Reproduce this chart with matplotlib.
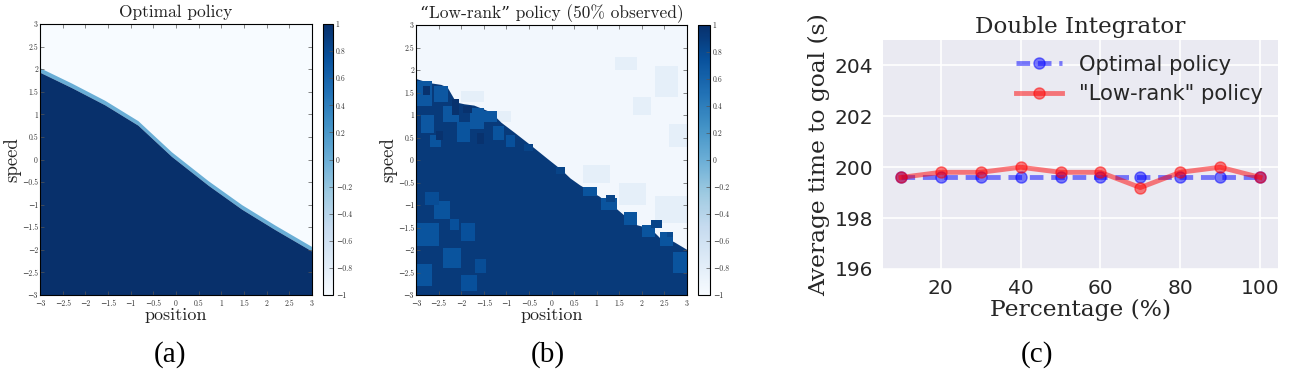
#!/usr/bin/env python3
"""Double integrator: policy maps (a, b) and average time to goal (c)."""
import matplotlib

matplotlib.use("Agg")
import matplotlib.pyplot as plt
import numpy as np
from matplotlib import cm, colors

# (a) optimal policy: upper edge of the switching band
opt_pos = [-3.0, -2.3, -1.57, -0.84, -0.1, 0.71, 1.45, 2.18, 3.0]
opt_band_top = [2.03, 1.69, 1.31, 0.86, 0.17, -0.47, -1.0, -1.45, -1.93]
opt_band_width = 0.1

# (b) "low-rank" policy: boundary of the +1 region
lr_pos = [-3.0, -2.71, -2.45, -2.31, -2.12, -1.94, -1.72, -1.57, -1.35, -1.12,
          -0.83, -0.46, -0.09, 0.2, 0.41, 0.62, 0.85, 1.05, 1.22, 1.4, 1.59,
          1.75, 1.89, 2.05, 2.18, 2.4, 2.55, 2.7, 2.85, 3.0]
lr_top = [1.81, 1.72, 1.68, 1.62, 1.29, 1.25, 1.22, 1.16, 1.07, 0.84,
          0.62, 0.33, 0.03, -0.2, -0.4, -0.55, -0.69, -0.8, -0.93, -1.05, -1.21,
          -1.33, -1.44, -1.48, -1.51, -1.73, -1.75, -1.81, -1.9, -1.99]
lr_fill = 0.92
lr_empty = -0.94

# (b) blocks whose value differs from the surrounding region
blk_x = [-3.0, -2.6, -2.9, -2.4, -2.1, -1.8, -1.5, -2.7, -1.3, -1.0,
         -2.2, -2.85, -2.55, -1.95, -1.65,
         -3.0, -2.6, -2.4, -3.0, -2.0, -2.0, -1.7, -2.8, -2.25,
         0.7, 1.1, 1.6, 2.0, 2.4, 2.7, -0.6, 0.1,
         1.2, 2.2, 2.55]
blk_y = [1.2, 1.3, 0.6, 0.85, 0.4, 0.7, 0.85, 0.3, 0.45, 0.3,
         1.0, 1.45, 0.45, 1.05, 0.35,
         -1.9, -1.3, -2.4, -2.8, -1.8, -2.9, -2.5, -1.0, -1.55,
         -0.8, -1.1, -1.45, -1.7, -1.9, -2.5, 0.2, -0.3,
         -0.93, -1.51, -1.72]
blk_w = [0.35, 0.3, 0.3, 0.35, 0.3, 0.3, 0.3, 0.25, 0.25, 0.2,
         0.15, 0.15, 0.15, 0.2, 0.15,
         0.5, 0.35, 0.4, 0.35, 0.3, 0.35, 0.25, 0.3, 0.2,
         0.3, 0.35, 0.3, 0.3, 0.3, 0.3, 0.2, 0.2,
         0.2, 0.25, 0.15]
blk_h = [0.55, 0.35, 0.4, 0.35, 0.45, 0.45, 0.25, 0.25, 0.3, 0.25,
         0.35, 0.2, 0.2, 0.15, 0.25,
         0.5, 0.4, 0.45, 0.5, 0.4, 0.35, 0.3, 0.3, 0.25,
         0.2, 0.25, 0.3, 0.25, 0.3, 0.45, 0.15, 0.15,
         0.15, 0.17, 0.12]
blk_v = [0.7, 0.7, 0.7, 0.7, 0.72, 0.7, 0.7, 0.72, 0.72, 0.75,
         0.98, 0.98, 0.98, 0.98, 0.98,
         0.72, 0.72, 0.72, 0.72, 0.75, 0.75, 0.78, 0.78, 0.75,
         0.72, 0.72, 0.72, 0.72, 0.72, 0.72, 0.85, 0.85,
         0.85, 0.85, 0.8]

# (b) faint patches in the -1 region
faint_x = [-2.0, -1.2, 0.7, 1.5, 2.3, 1.8, 2.3, 2.6, 1.4]
faint_y = [1.29, 0.85, -0.5, -1.0, -1.4, 1.0, 1.4, 0.3, 2.0]
faint_w = [0.5, 0.3, 0.6, 0.6, 0.7, 0.4, 0.5, 0.4, 0.5]
faint_h = [0.25, 0.25, 0.4, 0.5, 0.6, 0.4, 0.7, 0.5, 0.3]
faint_v = -0.82

# (c) average time to goal
percentage = [10, 20, 30, 40, 50, 60, 70, 80, 90, 100]
time_optimal = [199.6, 199.6, 199.6, 199.6, 199.6, 199.6, 199.6, 199.6, 199.6, 199.6]
time_lowrank = [199.6, 199.8, 199.8, 200.0, 199.8, 199.8, 199.2, 199.8, 200.0, 199.6]

W, H = 1295, 372
CM = ["cmr10", "DejaVu Serif"]
cmap = plt.get_cmap("Blues")
norm = colors.Normalize(vmin=-1, vmax=1)
grid_ticks = [-3, -2.5, -2, -1.5, -1, -0.5, 0, 0.5, 1, 1.5, 2, 2.5, 3]
cbar_ticks = [-1, -0.8, -0.6, -0.4, -0.2, 0, 0.2, 0.4, 0.6, 0.8, 1]

plt.rcParams["axes.unicode_minus"] = False


def fmt(v):
    if abs(v) < 1e-9:
        return "0"
    return f"{v:g}".replace("-", "\u2212")


def px_axes(fig, x0, y0, x1, y1):
    return fig.add_axes([x0 / W, 1 - y1 / H, (x1 - x0) / W, (y1 - y0) / H])


def style_map(ax, cax, title):
    ax.set_xlim(-3, 3)
    ax.set_ylim(-3, 3)
    ax.set_xticks(grid_ticks)
    ax.set_yticks(grid_ticks)
    ax.set_xticklabels([fmt(t) for t in grid_ticks], family=CM, fontsize=5.5)
    ax.set_yticklabels([fmt(t) for t in grid_ticks], family=CM, fontsize=5.5)
    ax.tick_params(direction="in", top=True, right=True, length=3, width=0.5,
                   pad=1.5, color="#555555", labelcolor="#333333")
    ax.tick_params(axis="x", pad=3)
    for s in ax.spines.values():
        s.set_linewidth(0.8)
    ax.set_xlabel("position", family=CM, fontsize=13, labelpad=0, color="#222222")
    ax.set_ylabel("speed", family=CM, fontsize=13.5, labelpad=0, color="#222222")
    ax.set_title(title, family=CM, fontsize=12.5, pad=5, color="#222222")

    cb = plt.gcf().colorbar(cm.ScalarMappable(norm=norm, cmap=cmap), cax=cax,
                            ticks=cbar_ticks)
    cb.ax.set_yticklabels([fmt(t) for t in cbar_ticks], family=CM, fontsize=5.5)
    cb.ax.tick_params(direction="in", length=3, width=0.5, pad=2,
                      color="#555555", labelcolor="#333333")
    cb.outline.set_linewidth(0.8)


fig = plt.figure(figsize=(W / 100, H / 100), dpi=100)

# ---------------- (a) ----------------
ax_a = px_axes(fig, 40, 24, 312, 295)
cax_a = px_axes(fig, 323, 24, 333, 295)
ax_a.set_facecolor(cmap(norm(-1)))
dark_top = np.array(opt_band_top) - opt_band_width
ax_a.fill_between(opt_pos, dark_top, opt_band_top, color=cmap(norm(0.0)), lw=0)
ax_a.fill_between(opt_pos, -3, dark_top, color=cmap(norm(1.0)), lw=0)
style_map(ax_a, cax_a, "Optimal policy")

# ---------------- (b) ----------------
ax_b = px_axes(fig, 416, 25, 687, 295)
cax_b = px_axes(fig, 698, 25, 710, 295)
ax_b.set_facecolor(cmap(norm(lr_empty)))
ax_b.bar(faint_x, faint_h, width=faint_w, bottom=faint_y, align="edge",
         color=cmap(norm(faint_v)), lw=0)
ax_b.fill_between(lr_pos, -3, lr_top, color=cmap(norm(lr_fill)), lw=0)
ax_b.bar(blk_x, blk_h, width=blk_w, bottom=blk_y, align="edge",
         color=[cmap(norm(v)) for v in blk_v], lw=0)
style_map(ax_b, cax_b, "\u201cLow-rank\u201d policy (50% observed)")

# ---------------- (c) ----------------
ax_c = px_axes(fig, 883, 40, 1278, 269)
ax_c.set_facecolor("#EAEAF2")
ax_c.grid(True, color="white", lw=1.2)
ax_c.set_axisbelow(True)
for s in ax_c.spines.values():
    s.set_visible(False)
ax_c.plot(percentage, time_optimal, "o--", color="blue", alpha=0.5, lw=3.5,
          ms=8, dashes=(2.8, 1.6), label="Optimal policy")
ax_c.plot(percentage, time_lowrank, "o-", color="red", alpha=0.5, lw=3.5,
          ms=8, label='"Low-rank" policy')
ax_c.set_ylim(196, 205)
ax_c.set_yticks([196, 198, 200, 202, 204])
ax_c.set_xticks([20, 40, 60, 80, 100])
ax_c.tick_params(length=0, labelsize=14.5, labelcolor="#262626", pad=7)
ax_c.set_title("Double Integrator", family="DejaVu Serif", fontsize=16.6,
               color="#262626", pad=5)
ax_c.set_xlabel("Percentage (%)", family="DejaVu Serif", fontsize=16.8,
                color="#262626", labelpad=1)
ax_c.set_ylabel("Average time to goal (s)", family="DejaVu Serif", fontsize=16.8,
                color="#262626", labelpad=3)
leg = ax_c.legend(loc="upper right", frameon=False, fontsize=15.2,
                  handlelength=2.2, borderaxespad=0.3, labelspacing=0.45)
for t in leg.get_texts():
    t.set_color("#262626")

# panel letters
for x, lab in [(170, "(a)"), (548, "(b)"), (1037, "(c)")]:
    fig.text(x / W, 1 - 355 / H, lab, family="Liberation Serif", fontsize=21,
             ha="center", va="center")

fig.savefig("out.png", dpi=100)
